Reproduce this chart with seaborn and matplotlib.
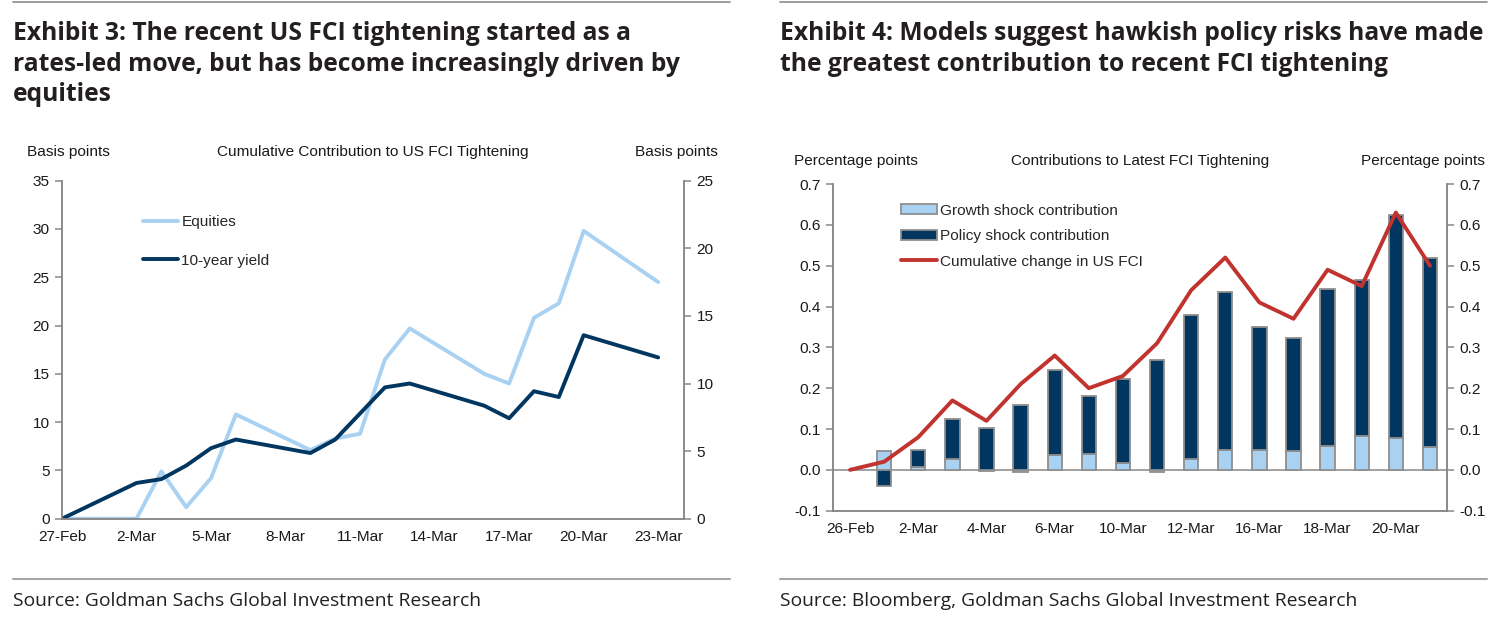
import matplotlib
matplotlib.use('Agg')
import matplotlib.pyplot as plt
import seaborn as sns
import pandas as pd
import numpy as np
from matplotlib.lines import Line2D
from matplotlib.patches import Patch

# Exhibit 3 data (basis points, left-axis scale)
ex3_dates = ['2026-02-27', '2026-03-02', '2026-03-03', '2026-03-04', '2026-03-05',
             '2026-03-06', '2026-03-09', '2026-03-10', '2026-03-11', '2026-03-12',
             '2026-03-13', '2026-03-16', '2026-03-17', '2026-03-18', '2026-03-19',
             '2026-03-20', '2026-03-23']
equities = [0, 0, 4.9, 1.2, 4.2, 10.8, 7.1, 8.3, 8.8, 16.5, 19.7, 15.0, 14.0, 20.8, 22.3, 29.8, 24.5]
ten_year = [0, 3.7, 4.1, 5.5, 7.3, 8.2, 6.8, 8.2, 10.9, 13.6, 14.0, 11.7, 10.4, 13.2, 12.6, 19.0, 16.7]
ex3_ticks = ['2026-02-27', '2026-03-02', '2026-03-05', '2026-03-08', '2026-03-11',
             '2026-03-14', '2026-03-17', '2026-03-20', '2026-03-23']
ex3_ticklabels = ['27-Feb', '2-Mar', '5-Mar', '8-Mar', '11-Mar', '14-Mar', '17-Mar', '20-Mar', '23-Mar']

# Exhibit 4 data (percentage points)
ex4_days = ['26-Feb', '27-Feb', '2-Mar', '3-Mar', '4-Mar', '5-Mar', '6-Mar', '9-Mar', '10-Mar',
            '11-Mar', '12-Mar', '13-Mar', '16-Mar', '17-Mar', '18-Mar', '19-Mar', '20-Mar', '23-Mar']
growth = [np.nan, 0.045, 0.008, 0.027, -0.003, -0.005, 0.037, 0.038, 0.018,
          -0.006, 0.027, 0.049, 0.049, 0.045, 0.058, 0.083, 0.078, 0.056]
policy = [np.nan, -0.040, 0.041, 0.098, 0.102, 0.158, 0.208, 0.144, 0.204,
          0.270, 0.353, 0.387, 0.301, 0.279, 0.386, 0.382, 0.547, 0.464]
fci = [0.0, 0.02, 0.08, 0.17, 0.12, 0.21, 0.28, 0.20, 0.23,
       0.31, 0.44, 0.52, 0.41, 0.37, 0.49, 0.45, 0.63, 0.50]

LIGHT = '#a9d1f1'
NAVY = '#00365f'
RED = '#c1332f'
GREY = '#878787'
TXT = '#1a1a1a'
FS = 11.1

sns.set_style('white')
plt.rcParams['font.family'] = ['Liberation Sans', 'DejaVu Sans']

W, H = 1502, 621
fig = plt.figure(figsize=(W / 100, H / 100), dpi=100)


def px_axes(l, t, r, b):
    return fig.add_axes([l / W, 1 - b / H, (r - l) / W, (b - t) / H])


def ftext(x, y, s, **kw):
    fig.text(x / W, 1 - y / H, s, **kw)


def style_axis(ax):
    for side, sp in ax.spines.items():
        sp.set_color(GREY)
        sp.set_linewidth(1.1)
    ax.spines['top'].set_visible(False)
    ax.tick_params(direction='out', length=5, width=1.1, color=GREY,
                   labelsize=FS, labelcolor=TXT, pad=4)


# ---------------- Exhibit 3 ----------------
df3 = pd.DataFrame({'date': pd.to_datetime(ex3_dates), 'Equities': equities, '10-year yield': ten_year})
ax1 = px_axes(62, 180.7, 684, 518.7)
sns.lineplot(data=df3, x='date', y='Equities', ax=ax1, color=LIGHT, lw=2.8, label='Equities')
sns.lineplot(data=df3, x='date', y='10-year yield', ax=ax1, color=NAVY, lw=2.8, label='10-year yield')
start = pd.Timestamp(ex3_dates[0])
ax1.set_xlim(start, start + pd.Timedelta(days=25.04))
ax1.set_ylim(0, 35)
ax1.set_yticks(range(0, 36, 5))
ax1.set_xticks(pd.to_datetime(ex3_ticks))
ax1.set_xticklabels(ex3_ticklabels)
ax1.set_xlabel('')
ax1.set_ylabel('')
style_axis(ax1)
ax1.tick_params(axis='x', pad=3)
ax1r = ax1.twinx()
ax1r.set_ylim(0, 25)
ax1r.set_yticks(range(0, 26, 5))
style_axis(ax1r)
h, l = ax1.get_legend_handles_labels()
ax1.legend(h, l, loc='upper left', bbox_to_anchor=(0.130, 0.898), frameon=False,
           fontsize=FS, handlelength=2.3, handletextpad=0.2, labelspacing=1.6,
           borderpad=0, borderaxespad=0)

ftext(13, 21, 'Exhibit 3: The recent US FCI tightening started as a\n'
      'rates-led move, but has become increasingly driven by\nequities',
      family='Open Sans', weight='bold', fontsize=17.7, color='#231f20', va='top', linespacing=1.3)
ftext(27, 152, 'Basis points', fontsize=FS, color=TXT, va='center')
ftext(373, 152, 'Cumulative Contribution to US FCI Tightening', fontsize=FS, color=TXT,
      va='center', ha='center')
ftext(718, 152, 'Basis points', fontsize=FS, color=TXT, va='center', ha='right')
ftext(13, 601, 'Source: Goldman Sachs Global Investment Research', family='Open Sans',
      fontsize=13.9, color='#231f20', va='center')

# ---------------- Exhibit 4 ----------------
n = len(ex4_days)
pos = np.arange(n)
g = np.array(growth)
p = np.array(policy)
p_bottom = np.where(p >= 0, np.maximum(g, 0), np.minimum(g, 0))

ax2 = px_axes(833, 184, 1447, 510.7)
ax2.axhline(0, color=GREY, lw=1.1, zorder=1)
ax2.bar(pos, g, width=0.42, color=LIGHT, edgecolor='#8f8f8f', linewidth=1.3, zorder=2)
ax2.bar(pos, p, bottom=p_bottom, width=0.42, color=NAVY, edgecolor='#8f8f8f', linewidth=1.3, zorder=2)
sns.lineplot(x=pos, y=fci, ax=ax2, color=RED, lw=2.8, zorder=3)
ax2.set_xlim(-0.5, n - 0.5)
ax2.set_ylim(-0.1, 0.7)
ax2.set_yticks(np.arange(-0.1, 0.71, 0.1))
ax2.yaxis.set_major_formatter(matplotlib.ticker.FormatStrFormatter('%.1f'))
ax2.set_xticks(pos[::2])
ax2.set_xticklabels(ex4_days[::2])
ax2.set_xticks(np.arange(-0.5, n, 1), minor=True)
style_axis(ax2)
ax2.tick_params(axis='x', which='major', length=0, pad=8)
ax2.tick_params(axis='x', which='minor', direction='out', length=5, width=1.1, color=GREY)
ax2r = ax2.twinx()
ax2r.set_ylim(-0.1, 0.7)
ax2r.set_yticks(np.arange(-0.1, 0.71, 0.1))
ax2r.yaxis.set_major_formatter(matplotlib.ticker.FormatStrFormatter('%.1f'))
style_axis(ax2r)

leg_h = [Patch(facecolor=LIGHT, edgecolor='#8f8f8f', lw=1.3),
         Patch(facecolor=NAVY, edgecolor='#8f8f8f', lw=1.3),
         Line2D([0], [0], color=RED, lw=2.8)]
leg_l = ['Growth shock contribution', 'Policy shock contribution', 'Cumulative change in US FCI']
ax2.legend(leg_h, leg_l, loc='upper left', bbox_to_anchor=(0.111, 0.94), frameon=False,
           fontsize=FS, handlelength=2.3, handleheight=0.65, handletextpad=0.2,
           labelspacing=0.75, borderpad=0, borderaxespad=0)

ftext(780, 21, 'Exhibit 4: Models suggest hawkish policy risks have made\n'
      'the greatest contribution to recent FCI tightening',
      family='Open Sans', weight='bold', fontsize=17.7, color='#231f20', va='top', linespacing=1.3)
ftext(794, 161, 'Percentage points', fontsize=FS, color=TXT, va='center')
ftext(1140, 161, 'Contributions to Latest FCI Tightening', fontsize=FS, color=TXT,
      va='center', ha='center')
ftext(1485, 161, 'Percentage points', fontsize=FS, color=TXT, va='center', ha='right')
ftext(780, 601, 'Source: Bloomberg, Goldman Sachs Global Investment Research', family='Open Sans',
      fontsize=13.9, color='#231f20', va='center')

# rules
for x0, x1 in [(13, 730), (780, 1487)]:
    fig.add_artist(Line2D([x0 / W, x1 / W], [1 - 579 / H] * 2, color='#a6a6a6', lw=1.5))
    fig.add_artist(Line2D([x0 / W, x1 / W], [1 - 1.5 / H] * 2, color='#8c8c8c', lw=1.2))

fig.savefig('out.png', dpi=100)
